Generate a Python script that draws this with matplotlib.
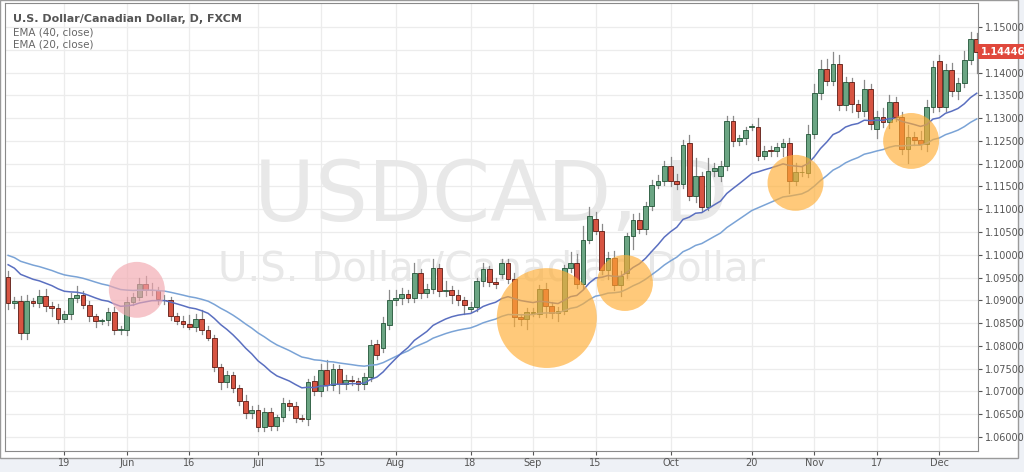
import matplotlib.pyplot as plt
from matplotlib.patches import Rectangle, Ellipse
import numpy as np

# daily USD/CAD candles (open, close)
opens = [1.0952, 1.0894, 1.0899, 1.0828, 1.0899, 1.0895, 1.0910, 1.0888, 1.0882, 1.0858,
         1.0870, 1.0905, 1.0911, 1.0890, 1.0865, 1.0855, 1.0856, 1.0875, 1.0835, 1.0835,
         1.0897, 1.0907, 1.0936, 1.0922, 1.0922, 1.0901, 1.0900, 1.0865, 1.0855, 1.0849,
         1.0842, 1.0859, 1.0835, 1.0818, 1.0753, 1.0720, 1.0735, 1.0708, 1.0678, 1.0652,
         1.0660, 1.0622, 1.0655, 1.0624, 1.0643, 1.0675, 1.0668, 1.0641, 1.0640, 1.0723,
         1.0700, 1.0747, 1.0714, 1.0749, 1.0716, 1.0725, 1.0722, 1.0716, 1.0731, 1.0804,
         1.0796, 1.0845, 1.0900, 1.0905, 1.0913, 1.0904, 1.0959, 1.0915, 1.0925, 1.0970,
         1.0920, 1.0923, 1.0912, 1.0900, 1.0881, 1.0885, 1.0942, 1.0969, 1.0940, 1.0958,
         1.0982, 1.0947, 1.0863, 1.0860, 1.0872, 1.0870, 1.0925, 1.0887, 1.0872, 1.0877,
         1.0971, 1.0982, 1.0936, 1.1033, 1.1079, 1.1053, 1.0966, 1.0993, 1.0933, 1.0960,
         1.1042, 1.1077, 1.1056, 1.1107, 1.1153, 1.1163, 1.1195, 1.1163, 1.1155, 1.1246,
         1.1130, 1.1172, 1.1106, 1.1184, 1.1172, 1.1195, 1.1294, 1.1250, 1.1256, 1.1281,
         1.1281, 1.1218, 1.1230, 1.1228, 1.1236, 1.1246, 1.1163, 1.1181, 1.1179, 1.1265,
         1.1356, 1.1407, 1.1382, 1.1420, 1.1329, 1.1379, 1.1332, 1.1316, 1.1364, 1.1277,
         1.1303, 1.1292, 1.1336, 1.1302, 1.1232, 1.1258, 1.1252, 1.1243, 1.1325, 1.1425,
         1.1325, 1.1406, 1.1360, 1.1378, 1.1428, 1.1475]
closes = [1.0894, 1.0899, 1.0828, 1.0899, 1.0895, 1.0910, 1.0888, 1.0882, 1.0858, 1.0870,
          1.0905, 1.0911, 1.0890, 1.0865, 1.0855, 1.0856, 1.0875, 1.0835, 1.0838, 1.0897,
          1.0907, 1.0936, 1.0922, 1.0923, 1.0902, 1.0900, 1.0865, 1.0855, 1.0849, 1.0842,
          1.0859, 1.0835, 1.0818, 1.0753, 1.0720, 1.0735, 1.0708, 1.0678, 1.0652, 1.0660,
          1.0622, 1.0655, 1.0624, 1.0643, 1.0675, 1.0668, 1.0641, 1.0640, 1.0721, 1.0700,
          1.0747, 1.0714, 1.0749, 1.0716, 1.0725, 1.0722, 1.0716, 1.0731, 1.0801, 1.0780,
          1.0850, 1.0900, 1.0905, 1.0913, 1.0904, 1.0959, 1.0915, 1.0925, 1.0972, 1.0920,
          1.0923, 1.0912, 1.0900, 1.0890, 1.0885, 1.0942, 1.0969, 1.0940, 1.0935, 1.0982,
          1.0947, 1.0863, 1.0860, 1.0874, 1.0875, 1.0925, 1.0887, 1.0872, 1.0877, 1.0971,
          1.0982, 1.0936, 1.1033, 1.1086, 1.1053, 1.0966, 1.0993, 1.0933, 1.0953, 1.1042,
          1.1077, 1.1056, 1.1107, 1.1153, 1.1163, 1.1195, 1.1163, 1.1155, 1.1241, 1.1130,
          1.1172, 1.1106, 1.1184, 1.1190, 1.1195, 1.1294, 1.1250, 1.1256, 1.1274, 1.1282,
          1.1218, 1.1229, 1.1228, 1.1236, 1.1246, 1.1163, 1.1181, 1.1182, 1.1265, 1.1356,
          1.1407, 1.1382, 1.1420, 1.1329, 1.1379, 1.1332, 1.1316, 1.1364, 1.1287, 1.1303,
          1.1292, 1.1336, 1.1302, 1.1232, 1.1258, 1.1252, 1.1243, 1.1325, 1.1413, 1.1325,
          1.1406, 1.1360, 1.1378, 1.1428, 1.1475, 1.1446]
# wick lengths above / below the body, in pips
wick_up = [12, 8, 10, 12, 6, 12, 14, 8, 10, 6, 12, 20, 10, 8, 6, 4, 8, 10, 6, 10,
           8, 14, 18, 16, 8, 10, 8, 8, 10, 18, 10, 20, 8, 6, 8, 10, 8, 6, 14, 8,
           10, 8, 8, 6, 10, 6, 8, 6, 6, 10, 14, 22, 10, 8, 12, 8, 8, 10, 12, 8,
           14, 22, 18, 14, 10, 22, 10, 10, 18, 10, 20, 8, 10, 8, 12, 8, 14, 6, 8, 8,
           8, 12, 8, 10, 8, 8, 12, 10, 8, 6, 24, 20, 30, 20, 14, 14, 12, 16, 12, 6,
           12, 14, 10, 12, 12, 10, 20, 14, 10, 16, 40, 10, 28, 12, 10, 10, 10, 8, 6, 6,
           20, 10, 10, 10, 8, 10, 20, 12, 20, 18, 20, 24, 26, 18, 12, 10, 8, 20, 12, 12,
           20, 14, 10, 12, 26, 12, 20, 16, 12, 14, 12, 16, 10, 20, 14, 12]
wick_dn = [14, 12, 14, 12, 8, 10, 12, 16, 8, 6, 10, 8, 8, 10, 14, 8, 10, 8, 10, 12,
           8, 6, 10, 10, 10, 8, 8, 6, 8, 6, 10, 8, 6, 8, 14, 10, 10, 8, 10, 10,
           10, 8, 8, 8, 8, 8, 8, 6, 14, 8, 10, 10, 10, 20, 10, 8, 12, 10, 8, 10,
           10, 8, 10, 14, 8, 8, 10, 8, 8, 10, 10, 18, 10, 20, 6, 8, 10, 8, 8, 10,
           8, 20, 14, 24, 6, 6, 24, 10, 18, 8, 8, 10, 8, 8, 8, 8, 20, 10, 24, 10,
           30, 8, 10, 8, 6, 10, 12, 10, 8, 10, 14, 10, 8, 10, 10, 8, 10, 8, 12, 8,
           10, 8, 12, 10, 20, 28, 10, 8, 8, 8, 14, 10, 10, 10, 10, 18, 14, 12, 10, 20,
           12, 14, 8, 10, 30, 10, 10, 14, 12, 10, 10, 12, 18, 10, 10, 46]
ema40_start = 1.1004
ema20_start = 1.0987

tick_pos = [9, 19, 29, 40, 50, 62, 74, 84, 94, 106, 119, 129, 139, 149]
tick_labels = ['19', 'Jun', '16', 'Jul', '15', 'Aug', '18', 'Sep', '15', 'Oct', '20', 'Nov', '17', 'Dec']

# highlighted zones: (candle index, price, radius px, colour)
zones = [(20.6, 1.0923, 28, '#f2a7ae'),
         (86.2, 1.0861, 50, '#ffad33'),
         (98.7, 1.0938, 28, '#ffad33'),
         (126.0, 1.1158, 28, '#ffad33'),
         (144.5, 1.1250, 28, '#ffad33')]


def ema(values, n, start):
    k = 2 / (n + 1)
    out = []
    prev = start
    for v in values:
        prev = prev + k * (v - prev)
        out.append(prev)
    return out


fig = plt.figure(figsize=(10.24, 4.72), dpi=100, facecolor='#eef1f6')
fig.patches.append(Rectangle((0, 14 / 472), 1018 / 1024, 1 - 14 / 472,
                             transform=fig.transFigure, facecolor='white',
                             edgecolor='#9a9a9a', lw=1, zorder=-10))
ax = fig.add_axes([5 / 1024, 21 / 472, 973 / 1024, 448 / 472])
ax.set_facecolor('white')

idx = np.arange(len(closes))
x_scale = 6.25      # px per candle
y_scale = 0.0002193  # price per px

for i in idx:
    o, c = opens[i], closes[i]
    hi = max(o, c) + wick_up[i] * 0.0001
    lo = min(o, c) - wick_dn[i] * 0.0001
    up = c >= o
    ax.plot([i, i], [lo, hi], color='#8a8a8a', lw=0.9, zorder=2)
    body = max(abs(c - o), 0.00008)
    ax.add_patch(Rectangle((i - 0.38, min(o, c)), 0.76, body,
                           facecolor='#6ba583' if up else '#d75442',
                           edgecolor='#225437' if up else '#5b1a13', lw=0.6, zorder=3))

ax.plot(idx, ema(closes, 40, ema40_start), color='#7aa3d6', lw=1.1, zorder=4)
ax.plot(idx, ema(closes, 20, ema20_start), color='#5a6fc0', lw=1.1, zorder=4)

for xi, yi, r, col in zones:
    ax.add_patch(Ellipse((xi, yi), 2 * r / x_scale, 2 * r * y_scale,
                         facecolor=col, alpha=0.65, edgecolor='none', zorder=5))

# watermark
ax.text(0.5, 0.565, 'USDCAD, D', transform=ax.transAxes, ha='center', va='center',
        fontsize=60, color='#e8e8e8', zorder=1)
ax.text(0.5, 0.405, 'U.S. Dollar/Canadian Dollar', transform=ax.transAxes, ha='center',
        va='center', fontsize=29, color='#e8e8e8', zorder=1)

ax.set_xlim(-0.5, 155.2)
ax.set_ylim(1.0569, 1.1553)
ax.yaxis.tick_right()
yt = np.arange(1.06, 1.1501, 0.005)
ax.set_yticks(yt)
ax.set_yticklabels(['' if abs(v - 1.145) < 1e-6 else '%.5f' % v for v in yt])
ax.set_xticks(tick_pos)
ax.set_xticklabels(tick_labels)
ax.tick_params(colors='#555555', labelsize=7, length=3, pad=2)
ax.grid(color='#ececec', lw=0.9, zorder=0)
ax.set_axisbelow(True)
for s in ax.spines.values():
    s.set_color('#8a8a8a')

last = closes[-1]
ax.text(1.003, last, '1.14446', transform=ax.get_yaxis_transform(), ha='left', va='center',
        fontsize=7, color='white', fontweight='bold',
        bbox=dict(boxstyle='square,pad=0.25', facecolor='#e0483c', edgecolor='none'))

ax.text(0.008, 0.975, 'U.S. Dollar/Canadian Dollar, D, FXCM', transform=ax.transAxes,
        fontsize=8, fontweight='bold', color='#555555', va='top')
ax.text(0.008, 0.945, 'EMA (40, close)', transform=ax.transAxes, fontsize=7.5,
        color='#666666', va='top')
ax.text(0.008, 0.918, 'EMA (20, close)', transform=ax.transAxes, fontsize=7.5,
        color='#666666', va='top')

fig.savefig('out.png', dpi=100, facecolor=fig.get_facecolor())
